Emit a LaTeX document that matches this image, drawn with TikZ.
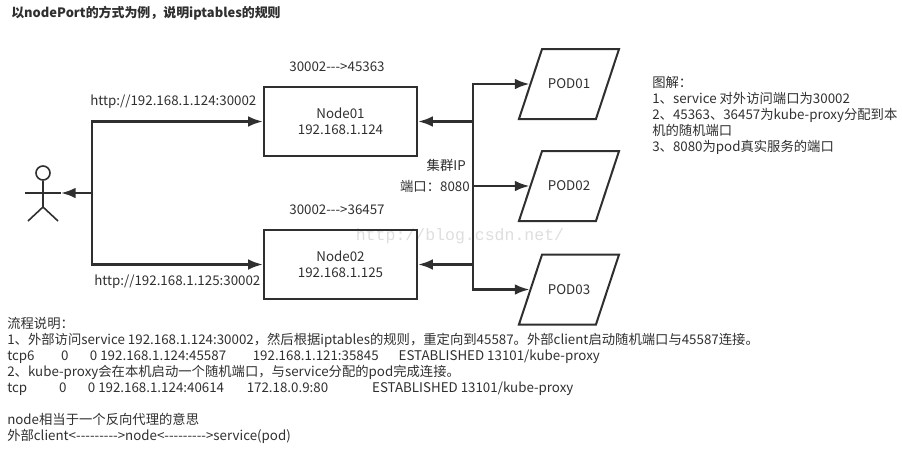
\documentclass[tikz,border=0pt]{standalone}
\usepackage{fontspec}
\setmainfont{Noto Sans CJK SC}
\newfontfamily\markfont{Liberation Mono}
\usepackage{tikz}
\usetikzlibrary{arrows,arrows.meta,positioning,shapes,calc}
\newcommand{\dashrun}{-{}-{}-{}-{}-{}-{}-{}-{}-}
\definecolor{inkgray}{HTML}{2F2F2F}
\definecolor{markgray}{HTML}{DEDEDE}
\tikzset{
  nodebox/.style={draw=inkgray, line width=1.7pt, minimum width=114.75pt, minimum height=51.75pt, inner sep=0pt, align=center, text=inkgray, font=\fontsize{10}{12}\selectfont},
  podbox/.style={draw=inkgray, line width=1.5pt, xslant=0.33, transform shape, minimum width=57.75pt, minimum height=52.5pt, inner sep=0pt},
  label/.style={text=inkgray, inner sep=0pt, font=\fontsize{10}{12}\selectfont},
  wire/.style={draw=inkgray, line width=1.8pt, -{Latex[length=11pt, width=8pt]}},
  limb/.style={draw=inkgray, line width=1.2pt}
}

\begin{document}
\begin{tikzpicture}[x=0.75pt, y=-0.75pt]
        \useasboundingbox (0, 0) rectangle (902, 450);
        %watermark
        \node[markgray, inner sep=0pt, font=\markfont\fontsize{12.4}{14}\selectfont] (mark) at (460, 236) {http://blog.csdn.net/};
        %nodes
        \node[nodebox] (node1) at (340.5, 121.5) {Node01\\192.168.1.124};
        \node[nodebox] (node2) at (340.5, 264.5) {Node02\\192.168.1.125};
        \node[podbox] (pod1) at (569, 84) {};
        \node[podbox] (pod2) at (569, 186) {};
        \node[podbox] (pod3) at (569, 289.5) {};
        \node[label] (podname1) at (569, 84) {POD01};
        \node[label] (podname2) at (569, 186) {POD02};
        \node[label] (podname3) at (569, 290) {POD03};
        %person
        \node[circle, limb, minimum size=10.5pt, inner sep=0pt] (head) at (43, 173) {};
        \coordinate (waist) at (43, 207);
        \coordinate (armL) at (25, 193);
        \coordinate (armR) at (61, 193);
        \coordinate (footL) at (28, 221);
        \coordinate (footR) at (58, 221);
        \path [limb] (head) to (waist);
        \path [limb] (armL) to (armR);
        \path [limb] (waist) to (footL);
        \path [limb] (waist) to (footR);
        %edges
        \coordinate (hub) at (92, 193);
        \coordinate (trunk) at (473, 186);
        \path [wire] (hub) |- (node1);
        \path [wire] (hub) |- (node2);
        \path [wire] (hub) to (armR);
        \path [wire] (trunk) |- (node1);
        \path [wire] (trunk) |- (node2);
        \path [wire] (trunk) |- (pod1);
        \path [wire] (trunk) to (pod2);
        \path [wire] (trunk) |- (pod3);
        %labels
        \node[label, font=\bfseries\fontsize{9.7}{12}\selectfont, anchor=west] (title) at (11, 13) {以nodePort的方式为例，说明iptables的规则};
        \node[label] (map1) at (337, 67) {30002-{}-{}->45363};
        \node[label] (map2) at (337, 210) {30002-{}-{}->36457};
        \node[label, anchor=west] (url1) at (90, 102) {http://192.168.1.124:30002};
        \node[label, anchor=west] (url2) at (94, 282) {http://192.168.1.125:30002};
        \node[label, anchor=east] (clusterip) at (466, 165) {集群IP};
        \node[label, anchor=east] (clusterport) at (470, 186) {端口：8080};
        \node[label, anchor=north west, align=left] (legend) at (652, 76) {图解：\\1、service 对外访问端口为30002\\2、45363、36457为kube-proxy分配到本\\机的随机端口\\3、8080为pod真实服务的端口};
        \node[label, anchor=north west, align=left] (flow) at (7, 317) {流程说明：\\1、外部访问service 192.168.1.124:30002，然后根据iptables的规则，重定向到45587。外部client启动随机端口与45587连接。\\tcp6\hspace{20pt}0\hspace{16pt}0 192.168.1.124:45587\hspace{20pt}192.168.1.121:35845\hspace{15pt}ESTABLISHED 13101/kube-proxy\\2、kube-proxy会在本机启动一个随机端口，与service分配的pod完成连接。\\tcp\hspace{24pt}0\hspace{16pt}0 192.168.1.124:40614\hspace{17pt}172.18.0.9:80\hspace{33pt}ESTABLISHED 13101/kube-proxy\\\mbox{}\\node相当于一个反向代理的意思\\外部client<\dashrun>node<\dashrun>service(pod)};
      \end{tikzpicture}
\end{document}
